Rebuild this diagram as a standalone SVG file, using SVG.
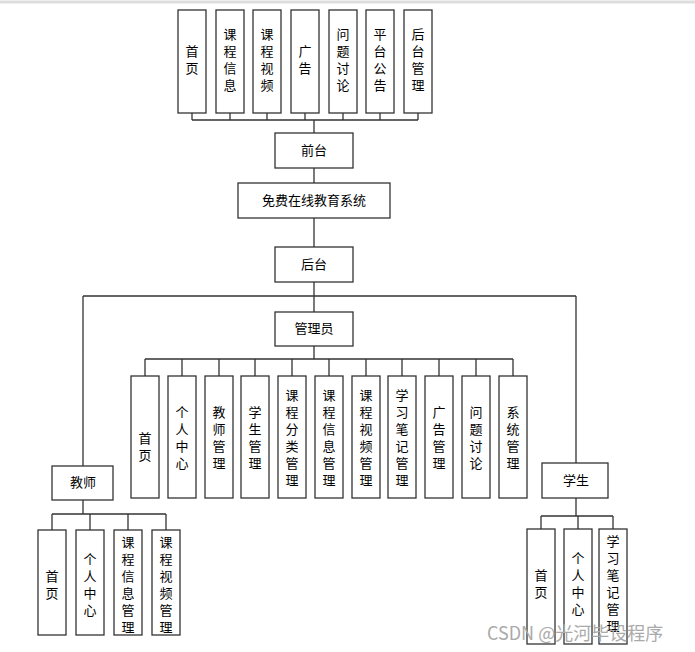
<svg xmlns="http://www.w3.org/2000/svg" width="695" height="652" viewBox="0 0 695 652">
<style>
rect{fill:#fff;stroke:#333;stroke-width:1.3}
text{font-family:"Noto Sans CJK SC",sans-serif;font-size:13px;fill:#000;text-anchor:middle}
.c line,.c path{stroke:#333;stroke-width:1.3;fill:none}
.wm{font-size:18px;fill:#aaa;text-anchor:start}
</style>
<rect x="0" y="0" width="695" height="652" style="fill:#fff;stroke:none"/>
<line x1="0" y1="2" x2="695" y2="2" stroke="#ddd" stroke-width="3"/>
<g class="c">
<path d="M192 113V120M230 113V120M267 113V120M305 113V120M343 113V120M380 113V120M418 113V120M192 120H418M314 120V133M314 168V183M314 218V247M314 282V296M83 296H576M83 296V466M576 296V463M314 296V312M314 346V359M145 359H513"/>
<path d="M145 359V376M182 359V376M219 359V376M255 359V376M292 359V376M329 359V376M366 359V376M402 359V376M439 359V376M476 359V376M513 359V376"/>
<path d="M83 500V514M52 514H166M52 514V530M90 514V530M128 514V530M166 514V530"/>
<path d="M576 498V516M541 516H613M541 516V529M578 516V529M613 516V529"/>
</g>
<g id="top">
<rect x="178" y="10" width="28" height="103"/><text x="192" y="56">首<tspan x="192" dy="17">页</tspan></text>
<rect x="216" y="10" width="28" height="103"/><text x="230" y="39">课<tspan x="230" dy="17">程</tspan><tspan x="230" dy="17">信</tspan><tspan x="230" dy="17">息</tspan></text>
<rect x="253" y="10" width="28" height="103"/><text x="267" y="39">课<tspan x="267" dy="17">程</tspan><tspan x="267" dy="17">视</tspan><tspan x="267" dy="17">频</tspan></text>
<rect x="291" y="10" width="28" height="103"/><text x="305" y="56">广<tspan x="305" dy="17">告</tspan></text>
<rect x="329" y="10" width="28" height="103"/><text x="343" y="39">问<tspan x="343" dy="17">题</tspan><tspan x="343" dy="17">讨</tspan><tspan x="343" dy="17">论</tspan></text>
<rect x="366" y="10" width="28" height="103"/><text x="380" y="39">平<tspan x="380" dy="17">台</tspan><tspan x="380" dy="17">公</tspan><tspan x="380" dy="17">告</tspan></text>
<rect x="404" y="10" width="28" height="103"/><text x="418" y="39">后<tspan x="418" dy="17">台</tspan><tspan x="418" dy="17">管</tspan><tspan x="418" dy="17">理</tspan></text>
</g>
<g id="qiantai"><rect x="275" y="133" width="78" height="35"/><text x="314" y="155">前台</text></g>
<g id="system"><rect x="238" y="183" width="152" height="35"/><text x="314" y="205">免费在线教育系统</text></g>
<g id="houtai"><rect x="275" y="247" width="78" height="35"/><text x="314" y="269">后台</text></g>
<g id="admin"><rect x="275" y="312" width="78" height="34"/><text x="314" y="333">管理员</text></g>
<g id="adminItems">
<rect x="131" y="376" width="28" height="122"/><text x="145" y="443">首<tspan x="145" dy="17">页</tspan></text>
<rect x="168" y="376" width="28" height="122"/><text x="182" y="417">个<tspan x="182" dy="17">人</tspan><tspan x="182" dy="17">中</tspan><tspan x="182" dy="17">心</tspan></text>
<rect x="205" y="376" width="28" height="122"/><text x="219" y="417">教<tspan x="219" dy="17">师</tspan><tspan x="219" dy="17">管</tspan><tspan x="219" dy="17">理</tspan></text>
<rect x="241" y="376" width="28" height="122"/><text x="255" y="417">学<tspan x="255" dy="17">生</tspan><tspan x="255" dy="17">管</tspan><tspan x="255" dy="17">理</tspan></text>
<rect x="278" y="376" width="28" height="122"/><text x="292" y="400">课<tspan x="292" dy="17">程</tspan><tspan x="292" dy="17">分</tspan><tspan x="292" dy="17">类</tspan><tspan x="292" dy="17">管</tspan><tspan x="292" dy="17">理</tspan></text>
<rect x="315" y="376" width="28" height="122"/><text x="329" y="400">课<tspan x="329" dy="17">程</tspan><tspan x="329" dy="17">信</tspan><tspan x="329" dy="17">息</tspan><tspan x="329" dy="17">管</tspan><tspan x="329" dy="17">理</tspan></text>
<rect x="352" y="376" width="28" height="122"/><text x="366" y="400">课<tspan x="366" dy="17">程</tspan><tspan x="366" dy="17">视</tspan><tspan x="366" dy="17">频</tspan><tspan x="366" dy="17">管</tspan><tspan x="366" dy="17">理</tspan></text>
<rect x="388" y="376" width="28" height="122"/><text x="402" y="400">学<tspan x="402" dy="17">习</tspan><tspan x="402" dy="17">笔</tspan><tspan x="402" dy="17">记</tspan><tspan x="402" dy="17">管</tspan><tspan x="402" dy="17">理</tspan></text>
<rect x="425" y="376" width="28" height="122"/><text x="439" y="417">广<tspan x="439" dy="17">告</tspan><tspan x="439" dy="17">管</tspan><tspan x="439" dy="17">理</tspan></text>
<rect x="462" y="376" width="28" height="122"/><text x="476" y="417">问<tspan x="476" dy="17">题</tspan><tspan x="476" dy="17">讨</tspan><tspan x="476" dy="17">论</tspan></text>
<rect x="499" y="376" width="28" height="122"/><text x="513" y="417">系<tspan x="513" dy="17">统</tspan><tspan x="513" dy="17">管</tspan><tspan x="513" dy="17">理</tspan></text>
</g>
<g id="teacher"><rect x="52" y="466" width="61" height="34"/><text x="83" y="487">教师</text></g>
<g id="teacherItems">
<rect x="38" y="530" width="28" height="105"/><text x="52" y="581">首<tspan x="52" dy="17">页</tspan></text>
<rect x="76" y="530" width="28" height="105"/><text x="90" y="564">个<tspan x="90" dy="17">人</tspan><tspan x="90" dy="17">中</tspan><tspan x="90" dy="17">心</tspan></text>
<rect x="114" y="530" width="28" height="105"/><text x="128" y="547">课<tspan x="128" dy="17">程</tspan><tspan x="128" dy="17">信</tspan><tspan x="128" dy="17">息</tspan><tspan x="128" dy="17">管</tspan><tspan x="128" dy="17">理</tspan></text>
<rect x="152" y="530" width="28" height="105"/><text x="166" y="547">课<tspan x="166" dy="17">程</tspan><tspan x="166" dy="17">视</tspan><tspan x="166" dy="17">频</tspan><tspan x="166" dy="17">管</tspan><tspan x="166" dy="17">理</tspan></text>
</g>
<g id="student"><rect x="542" y="463" width="66" height="35"/><text x="576" y="485">学生</text></g>
<g id="studentItems">
<rect x="527" y="529" width="28" height="115"/><text x="541" y="580">首<tspan x="541" dy="17">页</tspan></text>
<rect x="564" y="529" width="28" height="115"/><text x="578" y="563">个<tspan x="578" dy="17">人</tspan><tspan x="578" dy="17">中</tspan><tspan x="578" dy="17">心</tspan></text>
<rect x="599" y="529" width="28" height="115"/><text x="613" y="546">学<tspan x="613" dy="17">习</tspan><tspan x="613" dy="17">笔</tspan><tspan x="613" dy="17">记</tspan><tspan x="613" dy="17">管</tspan><tspan x="613" dy="17">理</tspan></text>
</g>
<text class="wm" x="487" y="640">CSDN @光河毕设程序</text>
</svg>
